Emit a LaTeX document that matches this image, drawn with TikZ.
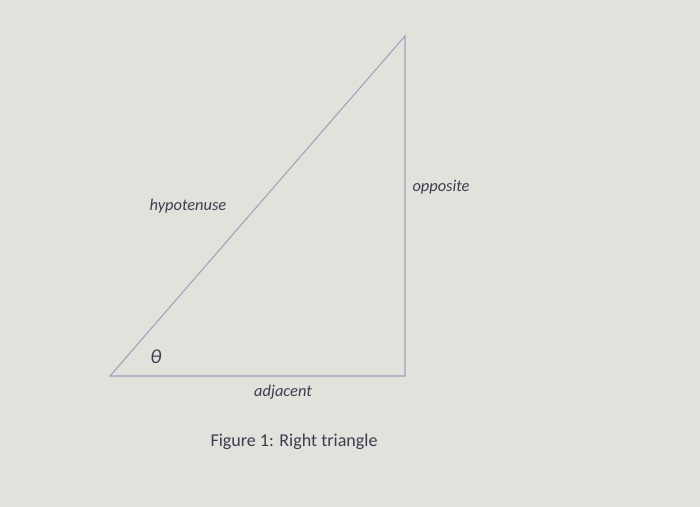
\documentclass[tikz,border=0pt]{standalone}
\usepackage{fontspec}
\setmainfont{Carlito}
\usepackage{tikz}
\definecolor{paper}{RGB}{226,225,219}
\definecolor{edgecol}{RGB}{158,162,188}
\definecolor{textcol}{RGB}{60,62,80}

\begin{document}
\begin{tikzpicture}[
        x=0.03cm, y=0.03cm,
        side-line/.style={draw=edgecol, line width=0.9pt},
        side-label/.style={text=textcol, font=\fontsize{14}{16}\selectfont\itshape},
        caption-label/.style={text=textcol, font=\fontsize{15.4}{18}\selectfont}
    ]
        \fill[paper] (0, 0) rectangle (700, 507);
        \useasboundingbox (0, 0) rectangle (700, 507);

        \coordinate (A) at (110, 131);
        \coordinate (B) at (405, 131);
        \coordinate (C) at (405, 471);

        \draw[side-line] (A) -- (B) -- (C) -- cycle;

        \node[side-label] (opp) at (441, 320) {opposite};
        \node[side-label] (hyp) at (188, 301) {hypotenuse};
        \node[side-label, font=\fontsize{17}{19}\selectfont\itshape] (theta) at (156, 150) {θ};
        \node[side-label] (adj) at (283, 115) {adjacent};
        \node[caption-label] (cap) at (294, 65) {Figure 1: Right triangle};
    \end{tikzpicture}
\end{document}
